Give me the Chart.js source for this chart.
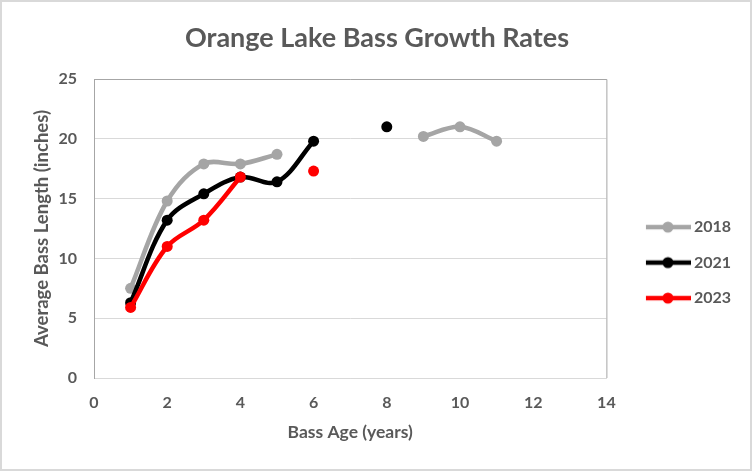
<!DOCTYPE html>
<html>
<head>
<meta charset="utf-8">
<title>Orange Lake Bass Growth Rates</title>
<script src="https://cdn.jsdelivr.net/npm/chart.js@4.4.1/dist/chart.umd.min.js"></script>
<style>
  html, body { margin: 0; padding: 0; background: #fff; }
  #chart { display: block; }
</style>
</head>
<body>
<canvas id="chart" width="752" height="471"></canvas>
<script>
// Bass age in years, shared by every survey year
const ages = [1, 2, 3, 4, 5, 6, 7, 8, 9, 10, 11];

// Average length (inches), null where that age was not sampled
const length2018 = [7.5, 14.8, 17.9, 17.9, 18.7, null, null, null, 20.2, 21.0, 19.8];
const length2021 = [6.3, 13.2, 15.4, 16.8, 16.4, 19.8, null, 21.0, null, null, null];
const length2023 = [5.9, 11.0, 13.2, 16.8, null, 17.3, null, null, null, null, null];

const seriesNames = ['2018', '2021', '2023'];
const seriesColors = ['#a5a5a5', '#000000', '#ff0000'];

// Axis ticks
const xTicks = [0, 2, 4, 6, 8, 10, 12, 14];
const yTicks = [0, 5, 10, 15, 20, 25];

const textColor = '#595959';
const fontFamily = 'Lato, "Open Sans", sans-serif';

// Pair each age with its length so the x axis can be linear:
const toPoints = (lengths) => ages.map((age, i) => ({ x: age, y: lengths[i] }));

// Legend marker: short thick line with a dot, like the Excel legend
const legendMarker = (color) => {
  const c = document.createElement('canvas');
  c.width = 70;
  c.height = 14;
  const g = c.getContext('2d');
  g.strokeStyle = color;
  g.lineWidth = 4.5;
  g.beginPath();
  g.moveTo(25, 7);
  g.lineTo(70, 7);
  g.stroke();
  g.fillStyle = color;
  g.beginPath();
  g.arc(47, 7, 5.5, 0, Math.PI * 2);
  g.fill();
  return c;
};

const allLengths = [length2018, length2021, length2023];
const datasets = allLengths.map((lengths, i) => ({
  label: seriesNames[i],
  data: toPoints(lengths),
  borderColor: seriesColors[i],
  backgroundColor: seriesColors[i],
  pointBackgroundColor: seriesColors[i],
  pointBorderWidth: 0,
  pointRadius: 5.5,
  borderWidth: 4.5,
  tension: 0.35,
  spanGaps: false,
  // later survey years sit on top
  order: allLengths.length - i
}));

// White background, outer border and the plot frame (top and right sides)
const frame = {
  id: 'frame',
  beforeDraw(chart) {
    const { ctx, width, height } = chart;
    ctx.save();
    ctx.fillStyle = '#ffffff';
    ctx.fillRect(0, 0, width, height);
    ctx.strokeStyle = '#d9d9d9';
    ctx.lineWidth = 2;
    ctx.strokeRect(1, 1, width - 2, height - 2);
    ctx.restore();
  },
  beforeDatasetsDraw(chart) {
    const { ctx, chartArea } = chart;
    ctx.save();
    ctx.strokeStyle = '#a6a6a6';
    ctx.lineWidth = 1;
    ctx.beginPath();
    ctx.moveTo(chartArea.left, chartArea.top + 0.5);
    ctx.lineTo(chartArea.right + 0.5, chartArea.top + 0.5);
    ctx.lineTo(chartArea.right + 0.5, chartArea.bottom);
    ctx.stroke();
    ctx.restore();
  }
};

const chart = new Chart(document.getElementById('chart'), {
  type: 'line',
  data: { datasets: datasets },
  plugins: [frame],
  options: {
    responsive: false,
    animation: false,
    layout: { padding: { left: 13, right: 11, top: 0, bottom: 26 } },
    plugins: {
      title: {
        display: true,
        text: 'Orange Lake Bass Growth Rates',
        color: textColor,
        font: { family: fontFamily, size: 27, weight: 'bold' },
        padding: { top: 22, bottom: 24.6 }
      },
      legend: {
        position: 'right',
        // empty legend title only pushes the entries down to the middle of the plot
        title: { display: true, text: '', font: { size: 16 }, padding: { top: 61, bottom: 0 } },
        labels: {
          color: textColor,
          font: { family: fontFamily, size: 16, weight: 'bold' },
          usePointStyle: true,
          pointStyleWidth: 60,
          padding: 19.5,
          sort: (a, b) => a.datasetIndex - b.datasetIndex,
          generateLabels: (c) => c.data.datasets.map((ds, i) => ({
            text: ds.label,
            datasetIndex: i,
            fontColor: textColor,
            pointStyle: legendMarker(ds.borderColor),
            fillStyle: ds.borderColor,
            strokeStyle: ds.borderColor,
            lineWidth: 0,
            hidden: false
          }))
        }
      },
      tooltip: { enabled: false }
    },
    scales: {
      x: {
        type: 'linear',
        min: xTicks[0],
        max: xTicks[xTicks.length - 1],
        afterBuildTicks: (scale) => { scale.ticks = xTicks.map(v => ({ value: v })); },
        grid: { display: false },
        border: { color: '#d9d9d9', width: 1 },
        ticks: {
          color: textColor,
          font: { family: fontFamily, size: 16, weight: 'bold' },
          padding: 7,
          maxRotation: 0
        },
        title: {
          display: true,
          text: 'Bass Age (years)',
          color: textColor,
          font: { family: fontFamily, size: 17.5, weight: 'bold' },
          padding: { top: 0, bottom: 2.5 }
        },
        afterFit: (scale) => { scale.height = 67; }
      },
      y: {
        min: yTicks[0],
        max: yTicks[yTicks.length - 1],
        afterBuildTicks: (scale) => { scale.ticks = yTicks.map(v => ({ value: v })); },
        grid: { color: '#d9d9d9', lineWidth: 1, drawTicks: false },
        border: { color: '#a6a6a6', width: 1 },
        ticks: {
          color: textColor,
          font: { family: fontFamily, size: 16, weight: 'bold' },
          padding: 17
        },
        title: {
          display: true,
          text: 'Average Bass Length (inches)',
          color: textColor,
          font: { family: fontFamily, size: 18.5, weight: 'bold' },
          padding: { top: 18, bottom: 0 }
        },
        afterFit: (scale) => { scale.width = 81; }
      }
    }
  }
});
</script>
</body>
</html>
